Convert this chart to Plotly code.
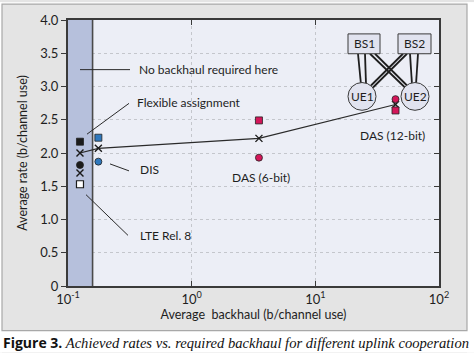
import plotly.graph_objects as go

# ---------------- data ----------------
schemes_backhaul = [0.125, 0.176, 3.5, 44.5]      # Flexible/LTE, DIS, DAS 6-bit, DAS 12-bit
rate_cross = [2.00, 2.07, 2.22, 2.73]
rate_square = [2.17, 2.23, 2.49, 2.64]
rate_circle = [1.82, 1.87, 1.93, 2.81]
point_colors = ["#1b1b1b", "#2f78bd", "#d4165a", "#d4165a"]
lte_backhaul = [0.125]
lte_rate_square = [1.53]
lte_rate_cross = [1.70]
no_backhaul_limit = 0.158

y_range = [0, 4]
y_tickvals = [0, 0.5, 1.0, 1.5, 2.0, 2.5, 3.0, 3.5, 4.0]
y_ticktext = ["0", "0.5", "1.0", "1.5", "2.0", "2.5", "3.0", "3.5", "4.0"]
x_range_log = [-1, 2]
x_tickvals = [0.1, 1, 10, 100]
x_ticktext = ["10<sup>-1</sup>", "10<sup>0</sup>", "10<sup>1</sup>", "10<sup>2</sup>"]

W, H = 474, 353
L, R, T, B = 68, 439, 18, 286

def px(x):
    return (x - L) / (R - L)

def py(y):
    return (B - y) / (B - T)

FONT = "Lato"
AX = "#3a3a3a"
PANEL = "#e4e4e4"

fig = go.Figure()

# no-backhaul band
x_min = 10 ** x_range_log[0]
fig.add_trace(go.Scatter(
    x=[x_min, no_backhaul_limit, no_backhaul_limit, x_min],
    y=[y_range[0], y_range[0], y_range[1], y_range[1]],
    mode="none", fill="toself", fillcolor="#b6c0dc",
    showlegend=False, hoverinfo="skip"))
fig.add_trace(go.Scatter(
    x=[no_backhaul_limit, no_backhaul_limit], y=y_range, mode="lines",
    line=dict(color="#4a4a4a", width=1.6), showlegend=False, hoverinfo="skip"))

fig.add_trace(go.Scatter(
    x=schemes_backhaul, y=rate_cross, mode="lines+markers",
    line=dict(color="#2a2a2a", width=1.2),
    marker=dict(symbol="x-thin", size=7, line=dict(color="#1b1b1b", width=1.4)),
    showlegend=False, hoverinfo="skip"))
fig.add_trace(go.Scatter(
    x=lte_backhaul, y=lte_rate_cross, mode="markers",
    marker=dict(symbol="x-thin", size=7, line=dict(color="#1b1b1b", width=1.4)),
    showlegend=False))
fig.add_trace(go.Scatter(
    x=schemes_backhaul, y=rate_square, mode="markers",
    marker=dict(symbol="square", size=7, color=point_colors,
                line=dict(color="#222", width=0.8)),
    showlegend=False))
fig.add_trace(go.Scatter(
    x=schemes_backhaul, y=rate_circle, mode="markers",
    marker=dict(symbol="circle", size=7, color=point_colors,
                line=dict(color="#222", width=0.8)),
    showlegend=False))
fig.add_trace(go.Scatter(
    x=lte_backhaul, y=lte_rate_square, mode="markers",
    marker=dict(symbol="square", size=7, color="white",
                line=dict(color="#1b1b1b", width=1.2)),
    showlegend=False))
# invisible trace for right-side axis ticks
fig.add_trace(go.Scatter(x=[x_min], y=[y_range[0]], yaxis="y2", mode="markers",
                         marker=dict(opacity=0), showlegend=False, hoverinfo="skip"))

shapes = []
# white strips around the gray panel (caption area etc.)
for (a, b, c, d) in [(0, 331, W, H), (467, 0, W, H), (0, 0, 2, H), (0, 0, W, 2)]:
    shapes.append(dict(type="rect", xref="paper", yref="paper", layer="below",
                       x0=px(a), x1=px(c), y0=py(d), y1=py(b), fillcolor="white",
                       line=dict(width=0)))
# panel border
shapes.append(dict(type="rect", xref="paper", yref="paper", layer="below",
                   x0=px(2), x1=px(467), y0=py(331), y1=py(2),
                   fillcolor="rgba(0,0,0,0)", line=dict(color="#a8a8a8", width=1.2)))

def seg(x0, y0, x1, y1, w=1.0, c="#2a2a2a"):
    shapes.append(dict(type="line", xref="paper", yref="paper",
                       x0=px(x0), y0=py(y0), x1=px(x1), y1=py(y1),
                       line=dict(color=c, width=w)))

# label leader lines
seg(80, 68, 130, 68)
seg(87, 133, 129, 102)
seg(110, 163, 129, 170)
seg(86, 194, 128, 235)

# BS/UE diagram links
for (a, b, c, d) in [(358, 52, 361, 83), (365, 52, 366, 83),
                     (370, 52, 405, 86), (375, 52, 407, 84),
                     (403, 52, 371, 84), (407, 52, 373, 86),
                     (410, 52, 412, 83), (418, 52, 416, 83)]:
    seg(a, b, c, d, w=1.8, c="#1e1e1e")

def box(x0, y0, x1, y1):
    shapes.append(dict(type="rect", xref="paper", yref="paper",
                       x0=px(x0), x1=px(x1), y0=py(y1), y1=py(y0),
                       fillcolor="#e1e3ef", line=dict(color="#3a3a3a", width=1)))

def circ(cx, cy, r):
    shapes.append(dict(type="circle", xref="paper", yref="paper",
                       x0=px(cx - r), x1=px(cx + r), y0=py(cy + r), y1=py(cy - r),
                       fillcolor="#e1e3ef", line=dict(color="#3a3a3a", width=1)))

box(348, 32, 380, 52)
box(398, 32, 431, 52)
circ(362, 95, 14)
circ(415, 95, 14)

annotations = []
def txt(x, y, s, anchor="left", size=12, font=FONT):
    annotations.append(dict(xref="paper", yref="paper", x=px(x), y=py(y), text=s,
                            showarrow=False, xanchor=anchor, yanchor="middle",
                            font=dict(family=font, size=size, color="#1e1e1e")))

txt(137, 68, "No backhaul required here")
txt(135, 101, "Flexible assignment")
txt(138, 169, "DIS")
txt(138, 235, "LTE Rel. 8")
txt(261, 177, "DAS (6-bit)", anchor="center")
txt(392, 134, "DAS (12-bit)", anchor="center")
txt(364, 42, "BS1", anchor="center", size=12)
txt(414, 42, "BS2", anchor="center", size=12)
txt(362, 95, "UE1", anchor="center", size=12)
txt(415, 95, "UE2", anchor="center", size=12)

annotations.append(dict(
    xref="paper", yref="paper", x=px(1), y=py(343), xanchor="left", yanchor="middle",
    showarrow=False,
    text=("<span style='font-family:Open Sans;font-weight:bold;font-size:14px'>Figure 3.</span>"
          "<span style='font-family:Liberation Serif;font-style:italic'> Achieved rates vs. "
          "required backhaul for different uplink cooperation</span>"),
    font=dict(size=14.6, color="#111")))

fig.update_layout(
    width=W, height=H,
    margin=dict(l=L, r=W - R, t=T, b=H - B),
    paper_bgcolor=PANEL, plot_bgcolor="#eceef6",
    font=dict(family=FONT, size=12, color="#1e1e1e"),
    shapes=shapes, annotations=annotations,
    xaxis=dict(type="log", range=x_range_log, tickvals=x_tickvals, ticktext=x_ticktext,
               ticks="inside", ticklen=5, tickcolor=AX, showline=True, linecolor=AX,
               linewidth=2, mirror="ticks", showgrid=True, gridcolor="#c4c6cc",
               griddash="dot", gridwidth=1, zeroline=False,
               tickfont=dict(size=13),
               title=dict(text="Average  backhaul (b/channel use)", standoff=2,
                          font=dict(size=12.5))),
    yaxis=dict(range=y_range, tickvals=y_tickvals, ticktext=y_ticktext,
               ticks="outside", ticklen=5, tickcolor=AX, showline=True, linecolor=AX,
               linewidth=2, mirror=True, showgrid=True, gridcolor="#c4c6cc",
               griddash="dot", gridwidth=1, zeroline=False, tickfont=dict(size=13),
               title=dict(text="Average rate (b/channel use)", standoff=10,
                          font=dict(size=12.5))),
    yaxis2=dict(range=y_range, overlaying="y", side="right", tickvals=y_tickvals,
                showticklabels=False, ticks="inside", ticklen=5, tickcolor=AX,
                showgrid=False, zeroline=False, showline=False),
)

fig.write_html("out.html")
